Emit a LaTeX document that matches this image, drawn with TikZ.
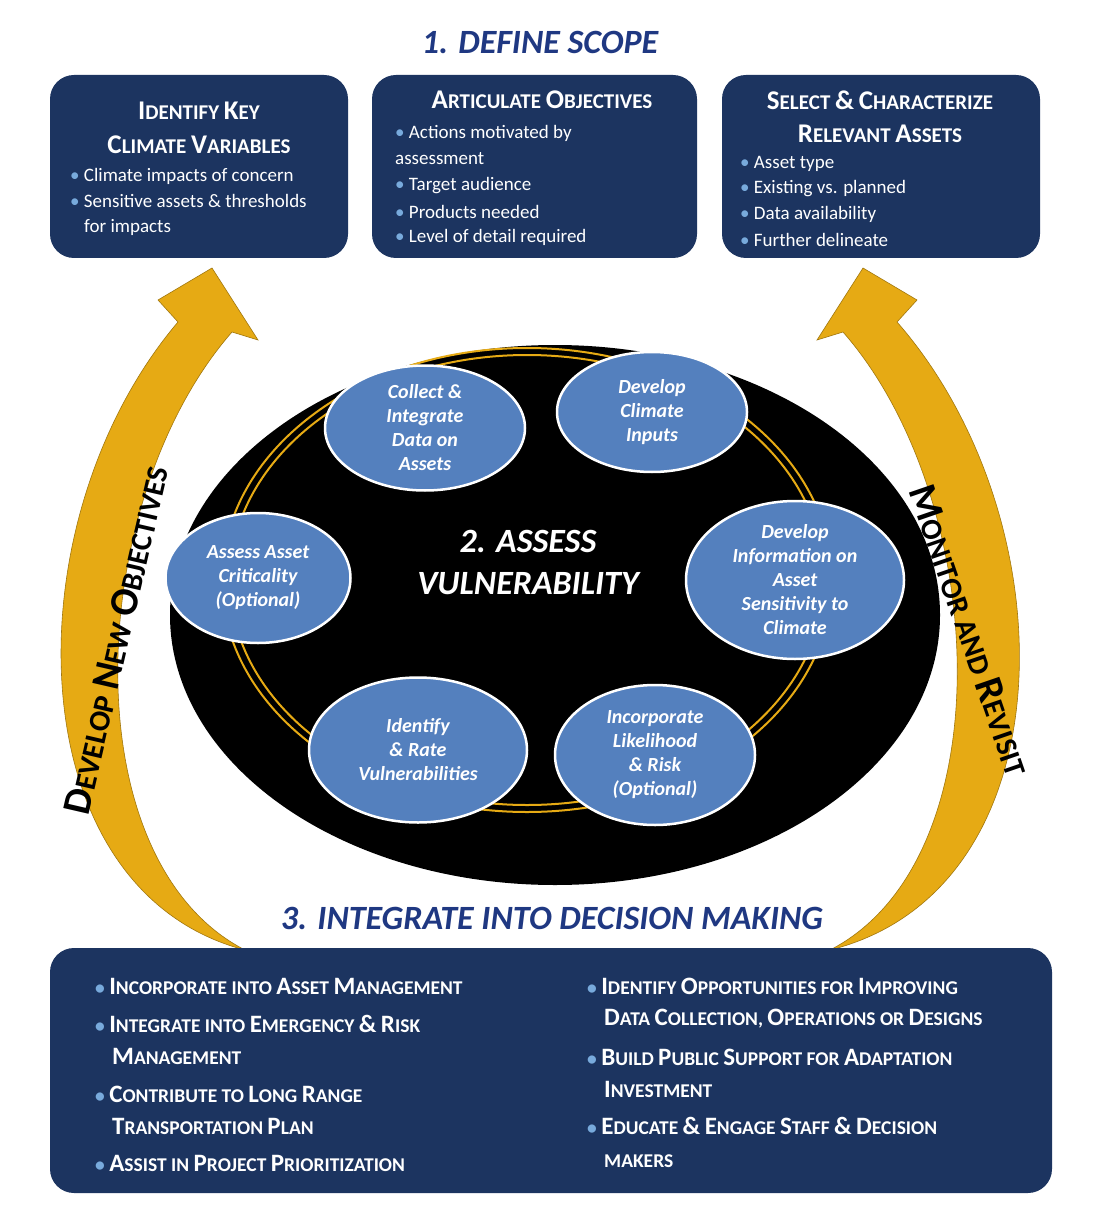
\documentclass[tikz,border=0pt]{standalone}
\usepackage{fontspec}
\setmainfont{Carlito}
\definecolor{navy}{RGB}{28,52,96}
\definecolor{tnavy}{RGB}{31,56,130}
\definecolor{cblue}{RGB}{84,128,190}
\definecolor{gold}{RGB}{230,170,20}
\definecolor{lb}{RGB}{120,170,220}
\newcommand\Cw[2]{{\fontsize{27}{28}\selectfont #1}{\fontsize{21}{24}\selectfont #2}}
\newcommand\Cb[2]{{\fontsize{25}{28}\selectfont #1}{\fontsize{19.5}{24}\selectfont #2}}
\newcommand\bul{{\color{lb}\textbullet}\ }
\tikzset{
 box/.style={fill=navy,rounded corners=24pt},
 hd/.style={text=white,font=\fontsize{21}{24}\selectfont\bfseries,anchor=center},
 bl/.style={text=white,font=\fontsize{19}{22}\selectfont,anchor=west,inner sep=0},
 bb/.style={text=white,font=\fontsize{19.5}{22}\selectfont\bfseries,anchor=west,inner sep=0},
 ttl/.style={text=tnavy,font=\fontsize{34}{38}\selectfont\bfseries\itshape},
 circ/.style={ellipse,fill=cblue,draw=white,line width=2.5pt,text=white,align=center,font=\fontsize{20}{24}\selectfont\bfseries\itshape,inner sep=0},
 arr/.style={fill=gold,draw=gold!70!black,line width=0.6pt},
 side/.style={font=\fontsize{30}{34}\selectfont\bfseries,text=black}
}
\newcommand\Cs[2]{{\fontsize{40}{44}\selectfont #1}{\fontsize{30}{36}\selectfont #2}}
\usetikzlibrary{shapes.geometric}
\begin{document}
\begin{tikzpicture}[x=1pt,y=-1pt]
\useasboundingbox (0,0) rectangle (1106,1214);
\fill[white] (0,0) rectangle (1106,1214);
% arrows
\path[arr] (245,950) .. controls (15,890) and (10,520) .. (178,322) -- (158,300) -- (212,268) -- (258,340) -- (232,332) .. controls (85,500) and (70,860) .. (245,950) -- cycle;
\path[arr] (830,950) .. controls (1070,890) and (1070,520) .. (897,322) -- (917,300) -- (863,268) -- (817,340) -- (843,332) .. controls (990,500) and (1005,860) .. (830,950) -- cycle;
% title
\node[ttl] (t1) at (540,42) {1. DEFINE SCOPE};
% top boxes
\path[box] (50,75) rectangle (348,258);
\path[box] (372,75) rectangle (697,258);
\path[box] (722,75) rectangle (1040,258);
\node[hd] (h1a) at (199,111) {\Cw{I}{DENTIFY} \Cw{K}{EY}};
\node[hd] (h1b) at (199,145) {\Cw{C}{LIMATE} \Cw{V}{ARIABLES}};
\node[bl] (b11) at (70,176) {\bul Climate impacts of concern};
\node[bl] (b12) at (70,201) {\bul Sensitive assets \& thresholds};
\node[bl] (b13) at (84,227) {for impacts};
\node[hd] (h2a) at (542,100) {\Cw{A}{RTICULATE} \Cw{O}{BJECTIVES}};
\node[bl] (b21) at (395,133) {\bul Actions motivated by};
\node[bl] (b22) at (395,159) {assessment};
\node[bl] (b23) at (395,186) {\bul Target audience};
\node[bl] (b24) at (395,212) {\bul Products needed};
\node[bl] (b25) at (395,237) {\bul Level of detail required};
\node[hd] (h3a) at (880,100) {\Cw{S}{ELECT} \Cw{\&}{} \Cw{C}{HARACTERIZE}};
\node[hd] (h3b) at (880,134) {\Cw{R}{ELEVANT} \Cw{A}{SSETS}};
\node[bl] (b31) at (740,164) {\bul Asset type};
\node[bl] (b32) at (740,189) {\bul Existing vs. planned};
\node[bl] (b33) at (740,214) {\bul Data availability};
\node[bl] (b34) at (740,240) {\bul Further delineate};
% central ellipse
\fill[black] (555,615) ellipse (385 and 270);
\draw[gold,line width=2pt] (527,580) ellipse (297 and 225);
\draw[gold,line width=2pt] (527,580) ellipse (305 and 232);
\node[circ,minimum width=200,minimum height=125] (c1) at (425,428) {Collect \&\\Integrate\\Data on\\Assets};
\node[circ,minimum width=190,minimum height=120] (c2) at (652,412) {Develop\\Climate\\Inputs};
\node[circ,minimum width=218,minimum height=158] (c3) at (795,580) {Develop\\Information on\\Asset\\Sensitivity to\\Climate};
\node[circ,minimum width=200,minimum height=140] (c4) at (655,755) {Incorporate\\Likelihood\\\& Risk\\(Optional)};
\node[circ,minimum width=218,minimum height=145] (c5) at (418,750) {Identify\\\& Rate\\Vulnerabilities};
\node[circ,minimum width=185,minimum height=130] (c6) at (258,578) {Assess Asset\\Criticality\\(Optional)};
\node[text=white,font=\fontsize{34}{42}\selectfont\bfseries\itshape,align=center] (av) at (528,562) {2. ASSESS\\VULNERABILITY};
% side texts
\node[side,rotate=77] (dn) at (116,640) {\Cs{D}{EVELOP} \Cs{N}{EW} \Cs{O}{BJECTIVES}};
\node[side,rotate=-71] (mr) at (970,630) {\Cs{M}{ONITOR AND} \Cs{R}{EVISIT}};
% bottom
\node[ttl] (t3) at (552,918) {3. INTEGRATE INTO DECISION MAKING};
\path[box] (50,948) rectangle (1052,1193);
\node[bb] (d1) at (95,986) {\bul\Cb{I}{NCORPORATE INTO} \Cb{A}{SSET} \Cb{M}{ANAGEMENT}};
\node[bb] (d2) at (95,1024) {\bul\Cb{I}{NTEGRATE INTO} \Cb{E}{MERGENCY} \Cb{\&}{} \Cb{R}{ISK}};
\node[bb] (d3) at (112,1056) {\Cb{M}{ANAGEMENT}};
\node[bb] (d4) at (95,1094) {\bul\Cb{C}{ONTRIBUTE TO} \Cb{L}{ONG} \Cb{R}{ANGE}};
\node[bb] (d5) at (112,1126) {\Cb{T}{RANSPORTATION} \Cb{P}{LAN}};
\node[bb] (d6) at (95,1163) {\bul\Cb{A}{SSIST IN} \Cb{P}{ROJECT} \Cb{P}{RIORITIZATION}};
\node[bb] (e1) at (587,986) {\bul\Cb{I}{DENTIFY} \Cb{O}{PPORTUNITIES FOR} \Cb{I}{MPROVING}};
\node[bb] (e2) at (604,1019) {\Cb{D}{ATA} \Cb{C}{OLLECTION}, \Cb{O}{PERATIONS OR} \Cb{D}{ESIGNS}};
\node[bb] (e3) at (587,1057) {\bul\Cb{B}{UILD} \Cb{P}{UBLIC} \Cb{S}{UPPORT FOR} \Cb{A}{DAPTATION}};
\node[bb] (e4) at (604,1089) {\Cb{I}{NVESTMENT}};
\node[bb] (e5) at (587,1126) {\bul\Cb{E}{DUCATE} \Cb{\&}{} \Cb{E}{NGAGE} \Cb{S}{TAFF} \Cb{\&}{} \Cb{D}{ECISION}};
\node[bb] (e6) at (604,1161) {\Cb{}{MAKERS}};
\end{tikzpicture}
\end{document}
